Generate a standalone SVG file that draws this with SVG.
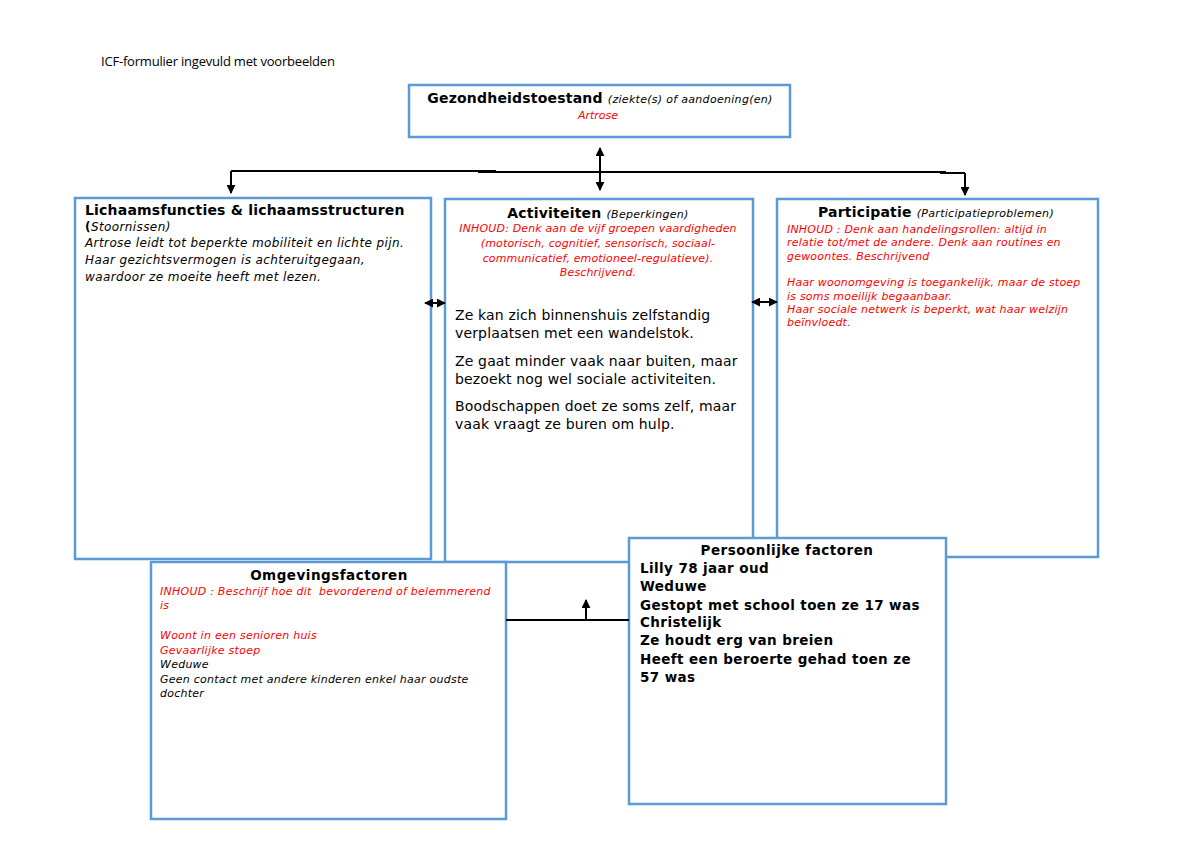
<svg xmlns="http://www.w3.org/2000/svg" width="1200" height="849" viewBox="0 0 1200 849">
<style>
.box{fill:#fff;stroke:#5b9bd5;stroke-width:2.5}
.t{font-family:"DejaVu Sans",Verdana,sans-serif;fill:#000}
.ttl{font-size:14px;font-weight:bold;letter-spacing:0.2px}
.sub{font-size:11px;font-style:italic;font-weight:normal;letter-spacing:0.3px}
.red{fill:#ff0000}
.it{font-style:italic}
.ln{stroke:#000;stroke-width:2;fill:none}
</style>
<defs>
<marker id="ah" viewBox="0 0 10 10" refX="9" refY="5" markerWidth="4.5" markerHeight="4.5" orient="auto-start-reverse">
<path d="M0,0 L10,5 L0,10 z" fill="#000"/>
</marker>
</defs>
<rect width="1200" height="849" fill="#fff"/>
<text x="101" y="66" font-family="'Open Sans','Liberation Sans',sans-serif" font-size="13" fill="#000" letter-spacing="-0.2">ICF-formulier ingevuld met voorbeelden</text>

<g id="gezondheid">
<rect class="box" x="409" y="85" width="381" height="52"/>
<text class="t" x="600" y="103" text-anchor="middle"><tspan class="ttl">Gezondheidstoestand </tspan><tspan class="sub">(ziekte(s) of aandoening(en)</tspan></text>
<text class="t red it" x="598" y="119" text-anchor="middle" font-size="11">Artrose</text>
</g>

<g id="lichaam">
<rect class="box" x="75" y="198" width="356" height="361"/>
<text class="t ttl" x="85" y="215">Lichaamsfuncties &amp; lichaamsstructuren</text>
<text class="t it" x="85" y="231" font-size="12" letter-spacing="0.4"><tspan font-style="normal" font-weight="bold">(</tspan>Stoornissen)</text>
<text class="t it" font-size="12" letter-spacing="0.4"><tspan x="85" y="247">Artrose leidt tot beperkte mobiliteit en lichte pijn.</tspan><tspan x="85" y="264">Haar gezichtsvermogen is achteruitgegaan,</tspan><tspan x="85" y="281">waardoor ze moeite heeft met lezen.</tspan></text>
</g>

<g id="activiteiten">
<rect class="box" x="445" y="199" width="308" height="363"/>
<text class="t" x="598" y="218" text-anchor="middle"><tspan class="ttl">Activiteiten </tspan><tspan class="sub" font-size="10.5">(Beperkingen)</tspan></text>
<text class="t red it" font-size="11" letter-spacing="0.15" text-anchor="middle"><tspan x="598" y="232">INHOUD: Denk aan de vijf groepen vaardigheden</tspan><tspan x="598" y="247">(motorisch, cognitief, sensorisch, sociaal-</tspan><tspan x="598" y="262">communicatief, emotioneel-regulatieve).</tspan><tspan x="598" y="276">Beschrijvend.</tspan></text>
<text class="t" font-size="14" letter-spacing="0.15"><tspan x="455" y="320">Ze kan zich binnenshuis zelfstandig</tspan><tspan x="455" y="338">verplaatsen met een wandelstok.</tspan><tspan x="455" y="366">Ze gaat minder vaak naar buiten, maar</tspan><tspan x="455" y="384">bezoekt nog wel sociale activiteiten.</tspan><tspan x="455" y="411">Boodschappen doet ze soms zelf, maar</tspan><tspan x="455" y="429">vaak vraagt ze buren om hulp.</tspan></text>
</g>

<g id="participatie">
<rect class="box" x="777" y="199" width="321" height="358"/>
<text class="t" x="936" y="217" text-anchor="middle"><tspan class="ttl">Participatie </tspan><tspan class="sub" font-size="10.5">(Participatieproblemen)</tspan></text>
<text class="t red it" font-size="11" letter-spacing="0.2"><tspan x="787" y="233">INHOUD : Denk aan handelingsrollen: altijd in</tspan><tspan x="787" y="246">relatie tot/met de andere. Denk aan routines en</tspan><tspan x="787" y="260">gewoontes. Beschrijvend</tspan><tspan x="787" y="286">Haar woonomgeving is toegankelijk, maar de stoep</tspan><tspan x="787" y="300">is soms moeilijk begaanbaar.</tspan><tspan x="787" y="313">Haar sociale netwerk is beperkt, wat haar welzijn</tspan><tspan x="787" y="326">beïnvloedt.</tspan></text>
</g>

<g id="omgeving">
<rect class="box" x="151" y="562" width="355" height="257"/>
<text class="t" x="329" y="580" text-anchor="middle" font-size="13.5" font-weight="bold" letter-spacing="0.5">Omgevingsfactoren</text>
<text class="t it" font-size="11" letter-spacing="0.25"><tspan class="red" x="160" y="595">INHOUD : Beschrijf hoe dit&#160; bevorderend of belemmerend</tspan><tspan class="red" x="160" y="609">is</tspan><tspan class="red" x="160" y="639">Woont in een senioren huis</tspan><tspan class="red" x="160" y="654">Gevaarlijke stoep</tspan><tspan x="160" y="668">Weduwe</tspan><tspan x="160" y="683">Geen contact met andere kinderen enkel haar oudste</tspan><tspan x="160" y="697">dochter</tspan></text>
</g>

<g id="persoonlijk">
<rect class="box" x="629" y="538" width="317" height="266"/>
<text class="t" x="787" y="555" text-anchor="middle" font-size="13.5" font-weight="bold" letter-spacing="0.5">Persoonlijke factoren</text>
<text class="t" font-size="13.5" font-weight="bold" letter-spacing="0.4"><tspan x="640" y="573">Lilly 78 jaar oud</tspan><tspan x="640" y="591">Weduwe</tspan><tspan x="640" y="610">Gestopt met school toen ze 17 was</tspan><tspan x="640" y="627">Christelijk</tspan><tspan x="640" y="645">Ze houdt erg van breien</tspan><tspan x="640" y="664">Heeft een beroerte gehad toen ze</tspan><tspan x="640" y="682">57 was</tspan></text>
</g>

<g id="connectors">
<line class="ln" x1="600" y1="148" x2="600" y2="190" marker-start="url(#ah)" marker-end="url(#ah)"/>
<path class="ln" d="M231 171 H496 M478 172 H946 M940 173 H965"/>
<line class="ln" x1="231" y1="171" x2="231" y2="193" marker-end="url(#ah)"/>
<line class="ln" x1="965" y1="173" x2="965" y2="195" marker-end="url(#ah)"/>
<line class="ln" x1="425" y1="303" x2="445" y2="303" marker-start="url(#ah)" marker-end="url(#ah)"/>
<line class="ln" x1="752" y1="302" x2="777" y2="302" marker-start="url(#ah)" marker-end="url(#ah)"/>
<line class="ln" x1="506" y1="620" x2="629" y2="620"/>
<line class="ln" x1="586" y1="620" x2="586" y2="600" marker-end="url(#ah)"/>
</g>
</svg>
